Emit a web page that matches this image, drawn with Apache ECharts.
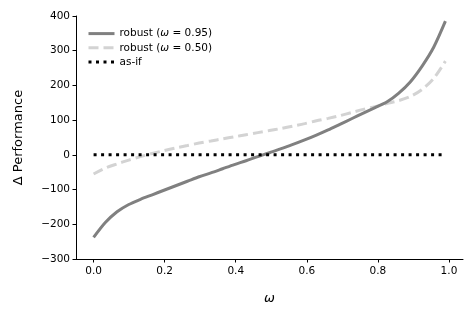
<!DOCTYPE html>
<html>
<head>
<meta charset="utf-8">
<script src="https://cdn.jsdelivr.net/npm/echarts@6/dist/echarts.min.js"></script>
<style>html,body{margin:0;padding:0;background:#fff;}#c{width:474px;height:316px;}</style>
</head>
<body>
<div id="c"></div>
<script>
var omega = [0, 0.033, 0.066, 0.099, 0.132, 0.165, 0.198, 0.231, 0.264, 0.297, 0.33, 0.363, 0.396, 0.429, 0.462, 0.495, 0.528, 0.561, 0.594, 0.627, 0.66, 0.693, 0.726, 0.759, 0.792, 0.825, 0.858, 0.891, 0.924, 0.957, 0.99];
var robust95 = [-238, -195, -164, -143, -128, -115, -102, -89, -76, -63, -52, -40, -28, -17, -5, 6, 18, 30, 43, 57, 72, 88, 104, 120, 136, 152, 177, 210, 255, 310, 385];
var robust50 = [-55, -38, -26, -15, -5, 4, 12, 20, 27, 34, 40, 46, 52, 58, 64, 70, 76, 83, 90, 98, 105, 113, 122, 131, 139, 148, 156, 168, 188, 220, 270];
var asIf = [0, 0, 0, 0, 0, 0, 0, 0, 0, 0, 0, 0, 0, 0, 0, 0, 0, 0, 0, 0, 0, 0, 0, 0, 0, 0, 0, 0, 0, 0, 0];
var xTicks = [0, 0.2, 0.4, 0.6, 0.8, 1.0];
var seriesNames = ['robust (ω = 0.95)', 'robust (ω = 0.50)', 'as-if'];

function pairs(ys) { return omega.map(function (x, i) { return [x, ys[i]]; }); }

var font = 'DejaVu Sans';
var chart = echarts.init(document.getElementById('c'), null, {renderer: 'canvas'});
chart.setOption({
  animation: false,
  backgroundColor: '#ffffff',
  textStyle: {fontFamily: font},
  grid: {left: 76, right: 11, top: 16, bottom: 57, containLabel: false, outerBoundsMode: 'none'},
  legend: {
    orient: 'vertical', left: 82, top: 23, itemWidth: 26, itemHeight: 14, itemGap: 3,
    data: seriesNames,
    itemStyle: {opacity: 0},
    lineStyle: {width: 3},
    formatter: function (n) {
      if (n === 'as-if') return n;
      return n.replace('ω', '{i|ω}');
    },
    textStyle: {fontFamily: font, fontSize: 10.5, color: '#000', padding: [0, 0, 0, 0],
      rich: {i: {fontFamily: font, fontStyle: 'italic', fontSize: 10.5, color: '#000'}}}
  },
  xAxis: {
    type: 'value', min: -0.0495, max: 1.0395,
    name: 'ω', nameLocation: 'middle', nameGap: 33,
    nameTextStyle: {fontFamily: font, fontStyle: 'italic', fontSize: 13, color: '#000'},
    axisLine: {show: true, onZero: false, lineStyle: {color: '#000', width: 1}},
    axisTick: {show: true, inside: false, length: 3.5, customValues: xTicks, lineStyle: {color: '#000'}},
    axisLabel: {customValues: xTicks, margin: 7, fontFamily: font, fontSize: 10.5, color: '#000',
      formatter: function (v) { return v.toFixed(1); }},
    splitLine: {show: false}
  },
  yAxis: {
    type: 'value', min: -300, max: 400, interval: 100,
    name: 'Δ Performance', nameLocation: 'middle', nameGap: 51, nameRotate: 90,
    nameTextStyle: {fontFamily: font, fontSize: 13, color: '#000'},
    axisLine: {show: true, onZero: false, lineStyle: {color: '#000', width: 1}},
    axisTick: {show: true, inside: false, length: 3.5, lineStyle: {color: '#000'}},
    axisLabel: {margin: 6, fontFamily: font, fontSize: 10.5, color: '#000',
      formatter: function (v) { return String(v).replace('-', '\u2212'); }},
    splitLine: {show: false}
  },
  series: [
    {name: seriesNames[0], type: 'line', data: pairs(robust95), smooth: 0.3, symbol: 'none',
      lineStyle: {color: '#808080', width: 3}, itemStyle: {color: '#808080'}, z: 3},
    {name: seriesNames[1], type: 'line', data: pairs(robust50), smooth: 0.3, symbol: 'none',
      lineStyle: {color: '#d3d3d3', width: 3, type: [10, 5]}, itemStyle: {color: '#d3d3d3'}, z: 2},
    {name: seriesNames[2], type: 'line', data: pairs(asIf), symbol: 'none',
      lineStyle: {color: '#000000', width: 3, type: [3, 4.5]}, itemStyle: {color: '#000'}, z: 4}
  ]
});
</script>
</body>
</html>
